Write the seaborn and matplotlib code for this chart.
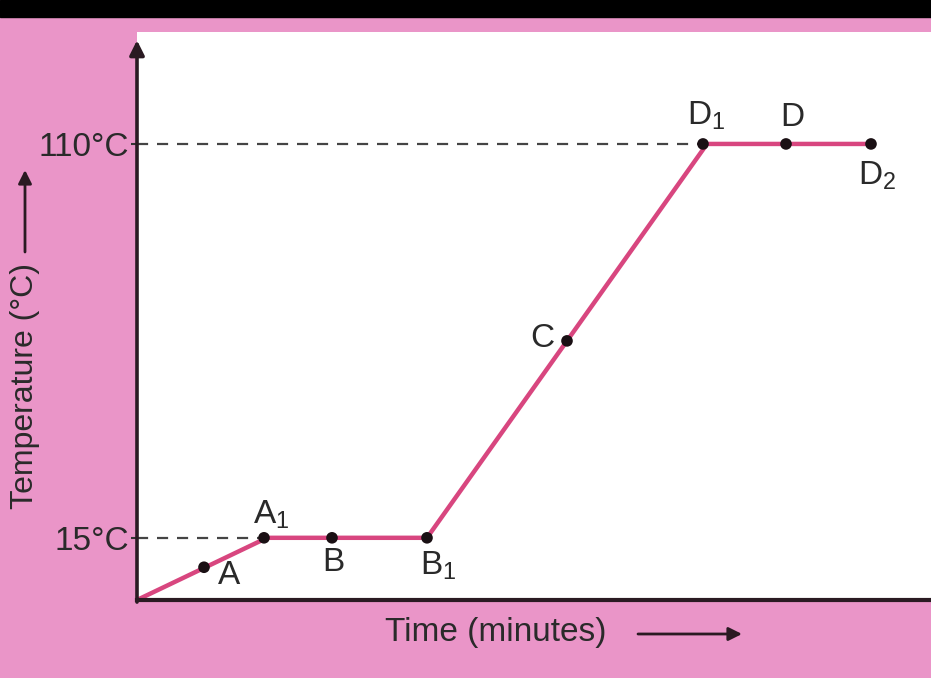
import matplotlib
matplotlib.use("Agg")
import matplotlib.pyplot as plt
from matplotlib.patches import Rectangle
import seaborn as sns
import pandas as pd

# ---- data ----
curve_time = [0, 13, 29, 57, 73.5]
curve_temp = [0, 15, 15, 110, 110]

point_labels = ["A", "A$_\\mathregular{1}$", "B", "B$_\\mathregular{1}$", "C",
                "D$_\\mathregular{1}$", "D", "D$_\\mathregular{2}$"]
point_time = [6.7, 12.7, 19.5, 29, 43, 56.6, 64.9, 73.4]
point_temp = [7.9, 15, 15, 15, 62.5, 110, 110, 110]

tick_values = [15, 110]
tick_labels = ["15°C", "110°C"]

x_label = "Time (minutes)"
y_label = "Temperature (°C)"

# ---- style ----
sns.set_style("white")
plt.rcParams["font.family"] = ["Liberation Sans", "DejaVu Sans"]
plt.rcParams["mathtext.fontset"] = "custom"
plt.rcParams["mathtext.rm"] = "Liberation Sans"
plt.rcParams["mathtext.it"] = "Liberation Sans"

PINK_BG = "#ea95c8"
LINE_PINK = "#d8467f"
FS = 24

fig = plt.figure(figsize=(9.31, 6.78), dpi=100, facecolor=PINK_BG)
W, H = 931, 678
ax = fig.add_axes([137 / W, 78 / H, 794 / W, 568 / H])
ax.set_facecolor("white")

# black band at top
fig.patches.append(Rectangle((0, 1 - 17 / H), 1, 17 / H, transform=fig.transFigure,
                             color="black", zorder=0))

curve = pd.DataFrame({"time": curve_time, "temp": curve_temp})
pts = pd.DataFrame({"time": point_time, "temp": point_temp, "label": point_labels})

ax.set_xlim(0, 79.4)
ax.set_ylim(0, 137)

# dashed guide lines
ax.plot([0, point_time[1]], [15, 15], ls=(0, (5, 4)), color="#444444", lw=1.6, zorder=1)
ax.plot([0, point_time[5]], [110, 110], ls=(0, (5, 4)), color="#444444", lw=1.6, zorder=1)

sns.lineplot(data=curve, x="time", y="temp", ax=ax, color=LINE_PINK, lw=3.2,
             sort=False, zorder=2)
sns.scatterplot(data=pts, x="time", y="temp", ax=ax, color="#1a1014", s=70,
                edgecolor="none", zorder=3)

offsets_px = [(25, -8), (7, 23), (1, -25), (11, -28), (-25, 2), (3, 28), (6, 26), (6, -32)]
for lab, t, v, (dx, dy) in zip(point_labels, point_time, point_temp, offsets_px):
    ax.annotate(lab, (t, v), xytext=(dx * 0.72, dy * 0.72), textcoords="offset points",
                ha="center", va="center", fontsize=FS, color="#2a2a2a")

# axes styling
for s in ["top", "right", "left"]:
    ax.spines[s].set_visible(False)
ax.spines["bottom"].set_linewidth(3)
ax.spines["bottom"].set_color("#2a1a22")
ax.set_xticks([])
ax.set_yticks(tick_values)
ax.set_yticklabels(tick_labels, fontsize=FS, color="#2a2a2a")
ax.tick_params(axis="y", length=4, width=1.5, pad=2, color="#333333", left=True)
ax.set_xlabel("")
ax.set_ylabel("")

# y-axis with arrow
ax.annotate("", xy=(0, 135), xytext=(0, -0.5), xycoords="data",
            arrowprops=dict(arrowstyle="-|>", color="#2a1a22", lw=2.6, mutation_scale=22,
                            shrinkA=0, shrinkB=0), annotation_clip=False)

# axis labels with arrows (figure pixel coords)
def fx(px):
    return px / W

def fy(py):
    return 1 - py / H

fig.text(fx(496), fy(632), x_label, ha="center", va="center", fontsize=FS, color="#2a2a2a")
ax.annotate("", xy=(fx(742), fy(634)), xytext=(fx(638), fy(634)), xycoords="figure fraction",
            arrowprops=dict(arrowstyle="-|>", color="#2a1a22", lw=2, mutation_scale=20,
                            shrinkA=0, shrinkB=0), annotation_clip=False)
fig.text(fx(25), fy(386), y_label, ha="center", va="center", rotation=90,
         fontsize=23, color="#2a2a2a")
ax.annotate("", xy=(fx(25), fy(170)), xytext=(fx(25), fy(252)), xycoords="figure fraction",
            arrowprops=dict(arrowstyle="-|>", color="#2a1a22", lw=2, mutation_scale=20,
                            shrinkA=0, shrinkB=0), annotation_clip=False)

fig.savefig("out.png", dpi=100, facecolor=PINK_BG)
